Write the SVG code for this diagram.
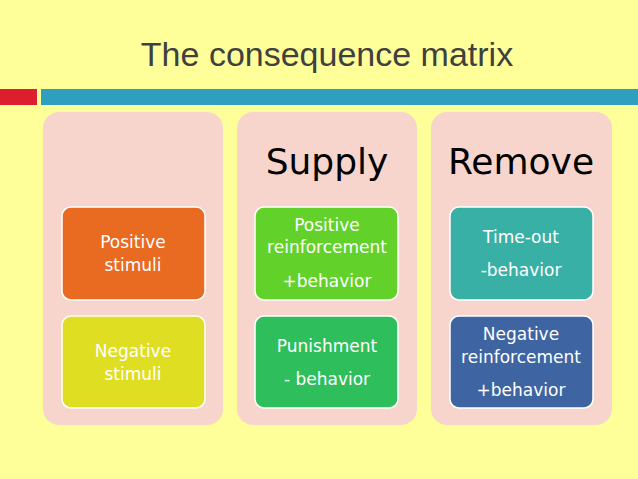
<svg xmlns="http://www.w3.org/2000/svg" width="638" height="479" viewBox="0 0 638 479">
<style>
.col{fill:#f7d5cc}
.box{stroke:#fff;stroke-width:1.5}
.t{font-family:"DejaVu Sans","Noto Sans",sans-serif;fill:#fff;font-size:17px;text-anchor:middle}
.h{font-family:"DejaVu Sans","Noto Sans",sans-serif;fill:#000;font-size:36px;text-anchor:middle}
</style>
<rect width="638" height="479" fill="#ffff99"/>
<text x="327" y="66" font-family="Liberation Sans,Arial,sans-serif" font-size="34" fill="#404040" text-anchor="middle">The consequence matrix</text>
<rect x="0" y="89" width="37" height="16" fill="#dd1f2d"/>
<rect x="41" y="89" width="597" height="16" fill="#2e9fbf"/>
<g id="col1"><rect class="col" x="43" y="112" width="180" height="313" rx="16"/></g>
<g id="col2"><rect class="col" x="237" y="112" width="180" height="313" rx="16"/><text class="h" x="327" y="174">Supply</text></g>
<g id="col3"><rect class="col" x="431" y="112" width="181" height="313" rx="16"/><text class="h" x="521" y="174">Remove</text></g>
<g id="n1"><rect class="box" x="62" y="207" width="143" height="93" rx="9" fill="#e96a21"/><text class="t" x="133" y="248">Positive</text><text class="t" x="133" y="271">stimuli</text></g>
<g id="n2"><rect class="box" x="62" y="316" width="143" height="92" rx="9" fill="#e0de22"/><text class="t" x="133" y="357">Negative</text><text class="t" x="133" y="380">stimuli</text></g>
<g id="n3"><rect class="box" x="255" y="207" width="143" height="93" rx="9" fill="#62d22a"/><text class="t" x="327" y="231">Positive</text><text class="t" x="327" y="253">reinforcement</text><text class="t" x="327" y="287">+behavior</text></g>
<g id="n4"><rect class="box" x="255" y="316" width="143" height="92" rx="9" fill="#2fbe5c"/><text class="t" x="327" y="352">Punishment</text><text class="t" x="327" y="385">- behavior</text></g>
<g id="n5"><rect class="box" x="450" y="207" width="143" height="93" rx="9" fill="#38b0a6"/><text class="t" x="521" y="243">Time-out</text><text class="t" x="521" y="276">-behavior</text></g>
<g id="n6"><rect class="box" x="450" y="316" width="143" height="92" rx="9" fill="#3e64a2"/><text class="t" x="521" y="340">Negative</text><text class="t" x="521" y="363">reinforcement</text><text class="t" x="521" y="396">+behavior</text></g>
<g id="connectors"/>
</svg>
